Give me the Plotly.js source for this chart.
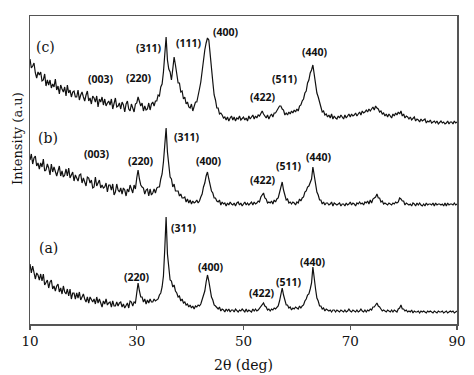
<!DOCTYPE html>
<html>
<head>
<meta charset="utf-8">
<script src="https://cdn.plot.ly/plotly-3.0.1.min.js"></script>
<style>html,body{margin:0;padding:0;background:#fff;}#chart{width:474px;height:375px;}</style>
</head>
<body>
<div id="chart"></div>
<script>
const twoTheta = [
10,10.25,10.5,10.75,11,11.25,11.5,11.75,12,12.25,12.5,12.75,13,13.25,13.5,13.75,14,14.25,14.5,14.75,
15,15.25,15.5,15.75,16,16.25,16.5,16.75,17,17.25,17.5,17.75,18,18.25,18.5,18.75,19,19.25,19.5,19.75,
20,20.25,20.5,20.75,21,21.25,21.5,21.75,22,22.25,22.5,22.75,23,23.25,23.5,23.75,24,24.25,24.5,24.75,
25,25.25,25.5,25.75,26,26.25,26.5,26.75,27,27.25,27.5,27.75,28,28.25,28.5,28.75,29,29.25,29.5,29.75,
30,30.25,30.5,30.75,31,31.25,31.5,31.75,32,32.25,32.5,32.75,33,33.25,33.5,33.75,34,34.25,34.5,34.75,
35,35.25,35.5,35.75,36,36.25,36.5,36.75,37,37.25,37.5,37.75,38,38.25,38.5,38.75,39,39.25,39.5,39.75,
40,40.25,40.5,40.75,41,41.25,41.5,41.75,42,42.25,42.5,42.75,43,43.25,43.5,43.75,44,44.25,44.5,44.75,
45,45.25,45.5,45.75,46,46.25,46.5,46.75,47,47.25,47.5,47.75,48,48.25,48.5,48.75,49,49.25,49.5,49.75,
50,50.25,50.5,50.75,51,51.25,51.5,51.75,52,52.25,52.5,52.75,53,53.25,53.5,53.75,54,54.25,54.5,54.75,
55,55.25,55.5,55.75,56,56.25,56.5,56.75,57,57.25,57.5,57.75,58,58.25,58.5,58.75,59,59.25,59.5,59.75,
60,60.25,60.5,60.75,61,61.25,61.5,61.75,62,62.25,62.5,62.75,63,63.25,63.5,63.75,64,64.25,64.5,64.75,
65,65.25,65.5,65.75,66,66.25,66.5,66.75,67,67.25,67.5,67.75,68,68.25,68.5,68.75,69,69.25,69.5,69.75,
70,70.25,70.5,70.75,71,71.25,71.5,71.75,72,72.25,72.5,72.75,73,73.25,73.5,73.75,74,74.25,74.5,74.75,
75,75.25,75.5,75.75,76,76.25,76.5,76.75,77,77.25,77.5,77.75,78,78.25,78.5,78.75,79,79.25,79.5,79.75,
80,80.25,80.5,80.75,81,81.25,81.5,81.75,82,82.25,82.5,82.75,83,83.25,83.5,83.75,84,84.25,84.5,84.75,
85,85.25,85.5,85.75,86,86.25,86.5,86.75,87,87.25,87.5,87.75,88,88.25,88.5,88.75,89,89.25,89.5,89.75,
90];

const sampleA = [
60,51,58,50, 45,51,49,44, 50,43,50,39, 41,44,36,42, 44,35,38,33,
38,40,32,36, 30,38,32,30, 35,28,35,25, 31,31,25,31, 26,32,24,27,
30,25,22,27, 21,27,25,22, 25,20,27,21, 25,20,17,23, 20,25,19,21,
22,17,23,18, 18,22,18,21, 22,17,20,16, 18,21,16,23, 22,18,22,21,
31,41,33,27, 27,22,25,20, 24,21,25,22, 22,25,23,24, 25,29,31,37,
48,75,107,70, 56,44,43,37, 39,33,31,27, 28,23,25,21, 22,19,20,17,
19,16,18,15, 18,17,19,18, 20,24,27,33, 42,49,43,34, 27,24,19,18,
16,15,17,13, 15,14,12,15, 13,15,12,14, 14,12,15,13, 12,14,13,15,
13,12,15,12, 14,13,12,15, 13,15,13,14, 16,17,20,21, 18,17,14,15,
13,15,14,16, 15,17,18,23, 29,36,29,24, 19,19,16,17, 14,16,15,17,
16,15,18,16, 18,19,23,25, 29,30,35,41, 57,44,35,26, 23,18,18,15,
16,13,15,14, 13,14,12,14, 14,12,14,13, 12,14,13,12, 14,12,13,15,
13,12,14,13, 12,14,12,13, 15,13,12,14, 12,14,13,15, 14,17,17,19,
21,18,17,15, 13,14,13,12, 14,13,12,14, 12,14,13,12, 15,16,19,15,
15,13,14,12, 13,12,14,11, 13,12,12,13, 11,13,12,13, 12,11,13,12,
13,12,11,13, 12,11,13,12, 12,13,11,12, 13,11,12,13, 12,13,11,12,
13];

const sampleB = [
164,170,160,166, 168,158,161,155, 161,157,165,153, 154,160,156,149, 160,152,157,152,
148,153,158,148, 153,147,149,155, 148,156,146,149, 152,143,149,146, 143,149,150,141,
146,142,138,147, 146,141,144,136, 137,147,138,141, 144,136,139,136, 137,141,132,139,
139,134,140,129, 132,140,134,132, 136,130,136,134, 128,135,132,139, 134,131,139,135,
146,154,145,139, 137,136,130,134, 135,128,135,129, 131,135,131,136, 137,137,145,150,
162,180,196,172, 160,147,145,137, 140,133,133,133, 128,130,126,126, 127,122,125,121,
124,120,123,121, 122,124,121,123, 127,130,137,141, 148,152,145,139, 133,131,126,126,
123,122,124,119, 122,120,121,118, 121,119,122,120, 119,121,118,121, 122,119,121,118,
120,122,119,121, 119,121,122,119, 122,120,121,123, 122,127,129,131, 126,125,121,122,
121,123,120,124, 122,125,126,132, 137,142,134,129, 124,125,121,122, 120,122,121,119,
122,121,125,123, 126,127,132,133, 137,138,142,145, 157,148,141,132, 129,124,124,120,
122,119,121,121, 119,120,122,118, 121,120,119,120, 121,118,120,120, 118,121,119,120,
122,119,121,120, 118,121,120,122, 120,121,119,122, 121,123,120,124, 121,125,126,127,
130,126,126,122, 123,120,121,120, 119,121,120,119, 121,120,122,121, 122,126,125,123,
123,119,121,120, 119,120,118,121, 120,118,121,119, 121,119,118,120, 118,121,119,120,
120,119,121,118, 121,119,120,120, 119,120,118,121, 118,121,119,120, 120,119,121,119,
120];

const sampleC = [
265,256,258,261, 251,246,252,249, 252,243,244,250, 238,244,239,244, 236,240,237,245,
234,238,230,239, 235,232,237,228, 239,231,234,227, 232,233,227,227, 234,224,229,232,
227,223,229,233, 223,226,220,228, 226,222,228,217, 225,222,227,219, 225,218,221,223,
219,225,215,221, 226,217,218,221, 215,222,219,212, 220,223,215,213, 220,216,212,220,
221,227,221,218, 221,213,218,214, 215,221,214,220, 222,218,223,223, 229,228,237,240,
252,273,287,264, 255,252,244,255, 267,259,252,241, 241,232,233,225, 227,220,222,217,
216,220,213,219, 222,222,231,235, 242,255,261,274, 281,286,284,268, 250,242,229,224,
216,216,210,211, 209,206,207,204, 207,203,206,208, 204,207,203,206, 205,208,204,206,
207,204,206,203, 208,205,207,209, 205,208,206,209, 208,211,213,210, 208,206,209,205,
208,210,207,211, 211,213,215,218, 218,215,214,209, 211,209,212,210, 213,211,214,212,
215,213,218,219, 223,225,231,233, 241,244,251,254, 259,249,241,231, 227,220,217,212,
213,209,210,207, 209,206,210,205, 208,206,205,208, 206,209,207,205, 209,206,208,210,
207,210,208,209, 211,208,210,212, 209,213,211,212, 214,212,215,213, 215,217,214,218,
216,215,212,213, 210,211,208,210, 207,210,208,206, 210,208,211,209, 212,210,213,208,
210,206,208,207, 205,207,204,206, 207,203,205,204, 202,205,203,204, 205,201,203,202,
204,201,202,203, 201,203,200,202, 203,201,202,200, 201,203,200,202, 202,200,203,201,
202];

const sampleNames = ["(a)", "(b)", "(c)"];
const peakLabels = {
  a: ["(220)", "(311)", "(400)", "(422)", "(511)", "(440)"],
  b: ["(003)", "(220)", "(311)", "(400)", "(422)", "(511)", "(440)"],
  c: ["(003)", "(220)", "(311)", "(111)", "(400)", "(422)", "(511)", "(440)"]
};

// label centres in figure pixels (converted to axis units below)
const labelPx = {
  a: [[137,277],[184,228],[211,267],[262,293],[289,282],[313,262]],
  b: [[97,154],[141,161],[187,137],[209,161],[263,180],[289,166],[319,157]],
  c: [[101,79],[139,78],[149,48],[189,43],[226,32],[263,97],[285,79],[315,52]]
};
const namePx = [[48,248],[48,138],[45,47]];

const L = 30, R = 457, T = 16, B = 324;
const X0 = 10, X1 = 90;
function px2x(px){ return X0 + (px - L) * (X1 - X0) / (R - L); }
function py2y(py){ return B - py; }

const lineStyle = {color: '#111', width: 1.2};
const traces = [sampleA, sampleB, sampleC].map((s, i) => ({
  x: twoTheta, y: s, type: 'scatter', mode: 'lines',
  line: lineStyle, name: sampleNames[i], showlegend: false, hoverinfo: 'skip'
}));

const annotations = [];
['a','b','c'].forEach(k => {
  peakLabels[k].forEach((t, j) => {
    annotations.push({
      x: px2x(labelPx[k][j][0]), y: py2y(labelPx[k][j][1]),
      xref: 'x', yref: 'y', text: '<b>' + t + '</b>', showarrow: false,
      font: {family: 'Open Sans, Liberation Sans, sans-serif', size: 10.5, color: '#111'}
    });
  });
});
sampleNames.forEach((t, i) => {
  annotations.push({
    x: px2x(namePx[i][0]), y: py2y(namePx[i][1]), xref: 'x', yref: 'y',
    text: t, showarrow: false,
    font: {family: 'DejaVu Serif, serif', size: 14, color: '#111'}
  });
});
// y-axis title, placed where the reference has it
annotations.push({
  x: (17 - L) / (R - L), y: (B - 139) / (B - T), xref: 'paper', yref: 'paper',
  xanchor: 'center', yanchor: 'middle',
  text: 'Intensity (a.u)', textangle: -90, showarrow: false,
  font: {family: 'DejaVu Serif, serif', size: 13, color: '#111'}
});

const layout = {
  width: 474, height: 375,
  margin: {l: L, r: 474 - R, t: T, b: 375 - B},
  paper_bgcolor: '#fff', plot_bgcolor: '#fff',
  showlegend: false,
  xaxis: {
    range: [X0, X1], tickvals: [10, 30, 50, 70, 90], ticktext: ['10','30','50','70','90'],
    ticks: 'outside', ticklen: 4, tickwidth: 1.2, tickcolor: '#555',
    showline: true, linecolor: '#555', linewidth: 1.5, mirror: true,
    showgrid: false, zeroline: false,
    tickfont: {family: 'DejaVu Serif, serif', size: 13.5, color: '#111'},
    title: {text: '2θ (deg)', font: {family: 'DejaVu Serif, serif', size: 14, color: '#111'}, standoff: 12}
  },
  yaxis: {
    range: [0, B - T], showticklabels: false, ticks: '',
    showline: true, linecolor: '#555', linewidth: 1.5, mirror: true,
    showgrid: false, zeroline: false
  },
  annotations: annotations
};

Plotly.newPlot('chart', traces, layout, {displayModeBar: false, staticPlot: true});
</script>
</body>
</html>
